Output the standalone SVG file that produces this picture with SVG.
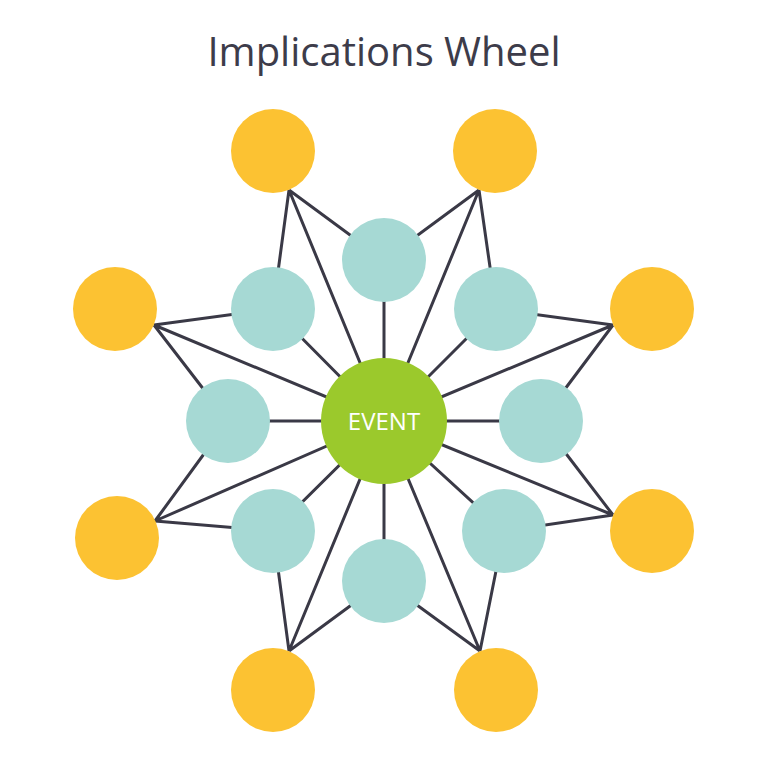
<svg xmlns="http://www.w3.org/2000/svg" width="768" height="768" viewBox="0 0 768 768">
<style>
.l{stroke:#3a3946;stroke-width:3;fill:none}
.y{fill:#fcc232}.t{fill:#a6d9d4}.g{fill:#9bc92c}
.title{font-family:"Open Sans","Liberation Sans",sans-serif;font-size:40px;fill:#3d3c4a}
.ev{font-family:"Open Sans","Liberation Sans",sans-serif;font-size:24px;fill:#fff}
</style>
<rect width="768" height="768" fill="#fff"/>
<text class="title" x="384" y="66" text-anchor="middle">Implications Wheel</text>
<g id="connectors" class="l">
<path d="M384,421L384,260M384,421L273,309M384,421L228,421M384,421L273,531M384,421L384,581M384,421L504,531M384,421L541,421M384,421L496,309"/>
<path d="M289,190L384,421M289,190L384,260M289,190L273,309"/>
<path d="M154,325L384,421M154,325L273,309M154,325L228,421"/>
<path d="M155,521L384,421M155,521L228,421M155,521L273,531"/>
<path d="M289,651L384,421M289,651L273,531M289,651L384,581"/>
<path d="M480,651L384,421M480,651L384,581M480,651L504,531"/>
<path d="M613,515L384,421M613,515L504,531M613,515L541,421"/>
<path d="M613,325L384,421M613,325L541,421M613,325L496,309"/>
<path d="M479,190L384,421M479,190L496,309M479,190L384,260"/>
</g>
<g id="t1"><circle class="t" cx="384" cy="260" r="42"/></g>
<g id="t2"><circle class="t" cx="273" cy="309" r="42"/></g>
<g id="t3"><circle class="t" cx="496" cy="309" r="42"/></g>
<g id="t4"><circle class="t" cx="228" cy="421" r="42"/></g>
<g id="t5"><circle class="t" cx="541" cy="421" r="42"/></g>
<g id="t6"><circle class="t" cx="273" cy="531" r="42"/></g>
<g id="t7"><circle class="t" cx="504" cy="531" r="42"/></g>
<g id="t8"><circle class="t" cx="384" cy="581" r="42"/></g>
<g id="y1"><circle class="y" cx="273" cy="151" r="42"/></g>
<g id="y2"><circle class="y" cx="495" cy="151" r="42"/></g>
<g id="y3"><circle class="y" cx="115" cy="309" r="42"/></g>
<g id="y4"><circle class="y" cx="652" cy="309" r="42"/></g>
<g id="y5"><circle class="y" cx="117" cy="538" r="42"/></g>
<g id="y6"><circle class="y" cx="652" cy="531" r="42"/></g>
<g id="y7"><circle class="y" cx="273" cy="690" r="42"/></g>
<g id="y8"><circle class="y" cx="496" cy="690" r="42"/></g>
<g id="event"><circle class="g" cx="384" cy="421" r="63"/><text class="ev" x="384" y="430" text-anchor="middle">EVENT</text></g>
</svg>
